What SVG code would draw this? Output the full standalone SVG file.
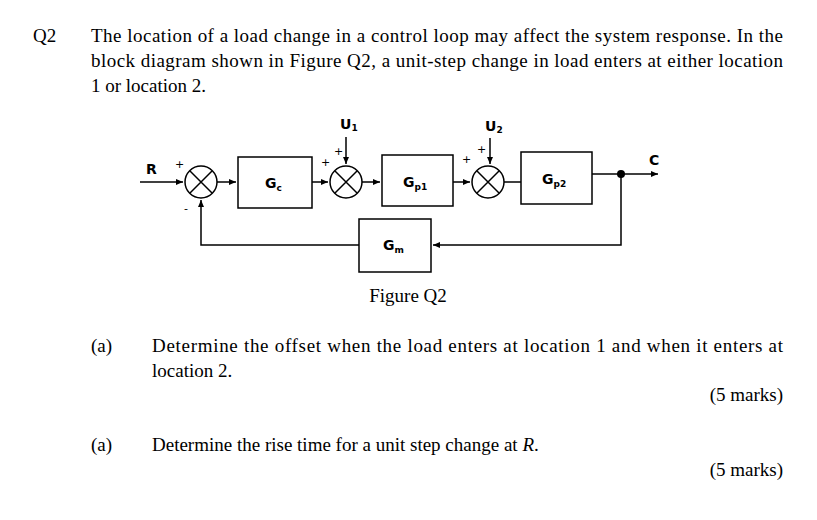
<svg xmlns="http://www.w3.org/2000/svg" width="817" height="520" viewBox="0 0 817 520">
<style>
.t{font-family:"Liberation Serif",serif;font-size:19px;fill:#000}
.b{fill:#fff;stroke:#000;stroke-width:1.5}
.l{fill:none;stroke:#000;stroke-width:1.5}
.s{font-family:"DejaVu Sans",sans-serif;font-weight:bold;font-size:14px;fill:#000}
.p{font-family:"DejaVu Sans",sans-serif;font-size:11px;fill:#000}
</style>
<defs><marker id="a" markerWidth="8" markerHeight="8" refX="7" refY="4" orient="auto" markerUnits="userSpaceOnUse"><path d="M0,1 L7,4 L0,7z"/></marker></defs>
<rect width="817" height="520" fill="#fff"/>
<text class="t" x="33" y="42">Q2</text>
<text class="t" x="91" y="42" textLength="692" lengthAdjust="spacing">The location of a load change in a control loop may affect the system response. In the</text>
<text class="t" x="91" y="67" textLength="692" lengthAdjust="spacing">block diagram shown in Figure Q2, a unit-step change in load enters at either location</text>
<text class="t" x="91" y="92">1 or location 2.</text>
<g id="connectors">
<path class="l" d="M140,182 H183" marker-end="url(#a)"/>
<path class="l" d="M217,182 H236" marker-end="url(#a)"/>
<path class="l" d="M312,182 H328" marker-end="url(#a)"/>
<path class="l" d="M362,182 H380" marker-end="url(#a)"/>
<path class="l" d="M453,182 H470" marker-end="url(#a)"/>
<path class="l" d="M504,182 H521"/>
<path class="l" d="M592,174 H658" marker-end="url(#a)"/>
<path class="l" d="M621,174 V245 H433" marker-end="url(#a)"/>
<path class="l" d="M359,245 H201 V200" marker-end="url(#a)"/>
<path class="l" d="M346,137 V164" marker-end="url(#a)"/>
<path class="l" d="M490,138 V164" marker-end="url(#a)"/>
<circle cx="621" cy="174" r="4"/>
</g>
<g id="sum1"><circle class="b" cx="201" cy="182" r="16"/><path class="l" d="M190,171 L212,193 M212,171 L190,193"/></g>
<g id="sum2"><circle class="b" cx="346" cy="182" r="16"/><path class="l" d="M335,171 L357,193 M357,171 L335,193"/></g>
<g id="sum3"><circle class="b" cx="488" cy="182" r="16"/><path class="l" d="M477,171 L499,193 M499,171 L477,193"/></g>
<g id="Gc"><rect class="b" x="238" y="157" width="74" height="51"/><text class="s" x="265" y="188">G<tspan font-size="9" dy="3">c</tspan></text></g>
<g id="Gp1"><rect class="b" x="382" y="155" width="71" height="51"/><text class="s" x="403" y="187">G<tspan font-size="9" dy="3">p1</tspan></text></g>
<g id="Gp2"><rect class="b" x="521" y="152" width="71" height="52"/><text class="s" x="542" y="184">G<tspan font-size="9" dy="3">p2</tspan></text></g>
<g id="Gm"><rect class="b" x="359" y="219" width="72" height="53"/><text class="s" x="383" y="250">G<tspan font-size="9" dy="3">m</tspan></text></g>
<text class="s" x="146" y="174">R</text>
<text class="p" x="175" y="168">+</text>
<text class="p" x="184" y="212">-</text>
<text class="p" x="321" y="166">+</text>
<text class="p" x="334" y="155">+</text>
<text class="p" x="462" y="163">+</text>
<text class="p" x="477" y="153">+</text>
<text class="s" x="340" y="129">U<tspan font-size="9" dy="2">1</tspan></text>
<text class="s" x="485" y="131">U<tspan font-size="9" dy="2">2</tspan></text>
<text class="s" x="649" y="165">C</text>
<text class="t" x="408" y="302" text-anchor="middle">Figure Q2</text>
<text class="t" x="91" y="352">(a)</text>
<text class="t" x="152" y="352" textLength="631" lengthAdjust="spacing">Determine the offset when the load enters at location 1 and when it enters at</text>
<text class="t" x="152" y="377">location 2.</text>
<text class="t" x="783" y="401" text-anchor="end">(5 marks)</text>
<text class="t" x="91" y="451">(a)</text>
<text class="t" x="152" y="451">Determine the rise time for a unit step change at <tspan font-style="italic">R</tspan>.</text>
<text class="t" x="783" y="476" text-anchor="end">(5 marks)</text>
</svg>
